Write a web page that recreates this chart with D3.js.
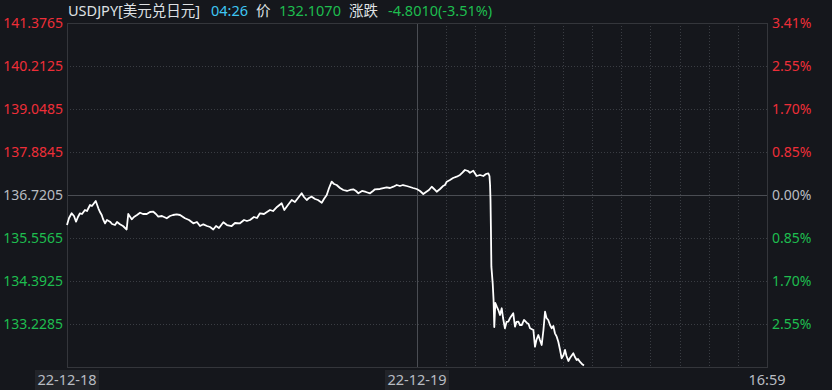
<!DOCTYPE html>
<html>
<head>
<meta charset="utf-8">
<script src="https://cdn.jsdelivr.net/npm/d3@7.9.0/dist/d3.min.js"></script>
<style>
  html, body { margin: 0; padding: 0; background: #15171c; }
  svg { display: block; font-family: "Noto Sans", "Noto Sans CJK SC", sans-serif; }
</style>
</head>
<body>
<div id="chart"></div>
<script>
// header values
const symbol     = 'USDJPY[美元兑日元]';
const lastTime   = '04:26';
const lastPrice  = '132.1070';
const change     = '-4.8010(-3.51%)';
const prevClose  = 136.7205;

// y ticks (price / percent)
const priceTicks  = [141.3765, 140.2125, 139.0485, 137.8845, 136.7205, 135.5565, 134.3925, 133.2285, 132.0645];
const priceLabels = ['141.3765', '140.2125', '139.0485', '137.8845', '136.7205', '135.5565', '134.3925', '133.2285', ''];
const pctLabels   = ['3.41%', '2.55%', '1.70%', '0.85%', '0.00%', '0.85%', '1.70%', '2.55%', ''];

// x: hours since start of the 22-12-18 session
const dayTicks   = [0, 24, 48];
const dayLabels  = ['22-12-18', '22-12-19', '16:59'];
const hourGrid   = [26, 28, 30, 32, 34, 36, 38, 40, 42, 44, 46];

// the series
const hours = [
  0.00, 0.14, 0.32, 0.48, 0.62, 0.75, 0.89, 1.03, 1.23, 1.37, 1.58, 1.71, 1.97, 2.15, 2.26, 2.38,
  2.47, 2.61, 2.74, 2.95, 3.09, 3.29, 3.43, 3.63, 3.84, 4.09, 4.20, 4.44, 4.59, 4.80, 5.01, 5.21,
  5.47, 5.69, 5.92, 6.10, 6.26, 6.51, 6.84, 7.06, 7.27, 7.52, 7.75, 8.09, 8.37, 8.66, 8.91, 9.12,
  9.35, 9.60, 9.81, 10.03, 10.22, 10.42, 10.72, 10.97, 11.29, 11.52, 11.86, 12.14, 12.34, 12.55,
  12.82, 13.03, 13.23, 13.51, 13.71, 13.92, 14.13, 14.40, 14.72, 14.90, 15.15, 15.41, 15.63, 15.84,
  16.09, 16.25, 16.44, 16.59, 16.78, 17.01, 17.21, 17.47, 17.62, 17.81, 17.97, 18.15, 18.31, 18.49,
  18.72, 18.95, 19.20, 19.41, 19.63, 19.82, 19.98, 20.23, 20.50, 20.78, 20.98, 21.12, 21.46, 21.92,
  22.15, 22.38, 22.61, 22.83, 23.04, 23.29, 23.52, 23.73, 23.98, 24.21, 24.43, 24.62, 24.82, 25.01,
  25.17, 25.35, 25.58, 25.78, 25.92, 26.04, 26.26, 26.47, 26.72, 26.95, 27.15, 27.29, 27.50, 27.63,
  27.86, 28.09, 28.32, 28.55, 28.73, 28.89, 28.97, 29.01, 29.04, 29.07, 29.10, 29.19, 29.25, 29.30,
  29.37, 29.47, 29.58, 29.69, 29.81, 29.90, 30.03, 30.14, 30.26, 30.38, 30.60, 30.72, 30.82, 30.95,
  31.06, 31.18, 31.34, 31.52, 31.65, 31.75, 31.98, 32.09, 32.19, 32.32, 32.43, 32.55, 32.67, 32.78,
  32.88, 33.00, 33.12, 33.24, 33.35, 33.46, 33.58, 33.69, 33.81, 33.92, 34.05, 34.15, 34.25, 34.38,
  34.49, 34.72, 34.83, 34.95, 35.04, 35.18, 35.31, 35.45
];
const prices = [
  135.908, 136.098, 136.225, 136.152, 135.998, 136.125, 136.225, 136.206, 136.314, 136.287, 136.450, 136.423, 136.558, 136.360, 136.260, 136.179,
  136.071, 135.954, 136.044, 135.998, 135.935, 135.908, 135.990, 135.927, 135.881, 135.787, 136.206, 136.063, 136.125, 136.179, 136.241, 136.206,
  136.206, 136.260, 136.268, 136.206, 136.133, 136.152, 136.090, 136.152, 136.179, 136.198, 136.179, 136.090, 136.044, 135.954, 135.990, 135.881,
  135.927, 135.881, 135.854, 135.787, 135.881, 135.827, 135.982, 135.908, 135.881, 135.963, 135.954, 136.044, 136.017, 136.044,
  136.125, 136.098, 136.225, 136.206, 136.260, 136.314, 136.287, 136.396, 136.496, 136.314, 136.450, 136.585, 136.531, 136.639,
  136.767, 136.666, 136.585, 136.639, 136.675, 136.612, 136.585, 136.512, 136.612, 136.721, 136.910, 137.081, 137.018, 136.991,
  136.910, 136.856, 136.829, 136.856, 136.875, 136.829, 136.767, 136.829, 136.802, 136.767, 136.829, 136.875, 136.883, 136.929,
  136.910, 136.945, 136.991, 136.964, 136.991, 136.964, 136.937, 136.910, 136.883, 136.829, 136.748, 136.802, 136.856, 136.945,
  136.883, 136.810, 136.883, 136.964, 136.991, 137.081, 137.127, 137.181, 137.216, 137.262, 137.343, 137.397, 137.370, 137.324,
  137.378, 137.235, 137.262, 137.235, 137.289, 137.308, 137.235, 136.991, 136.585, 135.773, 134.780, 134.330, 133.878, 133.147,
  133.797, 133.697, 133.607, 133.472, 133.654, 133.391, 133.112, 133.283, 133.291, 133.391, 133.518, 133.155, 133.283, 133.291,
  133.201, 133.201, 133.337, 133.264, 133.229, 133.112, 133.066, 132.614, 132.795, 132.931, 132.795, 132.660, 133.066, 133.561,
  133.391, 133.337, 133.201, 133.112, 133.174, 132.977, 132.885, 132.749, 132.525, 132.300, 132.389, 132.525, 132.362, 132.227,
  132.308, 132.435, 132.335, 132.254, 132.281, 132.200, 132.146, 132.107
];

const width = 832, height = 390;
const plot = { left: 67, right: 767, top: 23, bottom: 367 };

const red = '#ee2e38', green = '#1ebd4f', grey = '#b8bcc2';

const svg = d3.select('#chart').append('svg')
  .attr('width', width).attr('height', height);

svg.append('rect').attr('width', width).attr('height', height).attr('fill', '#15171c');

const x = d3.scaleLinear().domain([0, 48]).range([plot.left, plot.right]);
const y = d3.scaleLinear().domain([priceTicks[priceTicks.length - 1], priceTicks[0]])
  .range([plot.bottom, plot.top]);

const tickColor = v => v > prevClose + 1e-6 ? red : (v < prevClose - 1e-6 ? green : grey);

// dotted horizontal grid
svg.append('g')
  .selectAll('line')
  .data(priceTicks.filter(v => Math.abs(v - prevClose) > 1e-6))
  .join('line')
  .attr('x1', plot.left).attr('x2', plot.right)
  .attr('y1', d => Math.round(y(d)) + 0.5).attr('y2', d => Math.round(y(d)) + 0.5)
  .attr('stroke', '#3a3d43').attr('stroke-dasharray', '1,2');

// dotted vertical grid (second day only)
svg.append('g')
  .selectAll('line')
  .data(hourGrid)
  .join('line')
  .attr('x1', d => Math.round(x(d)) + 0.5).attr('x2', d => Math.round(x(d)) + 0.5)
  .attr('y1', plot.top).attr('y2', plot.bottom)
  .attr('stroke', '#3a3d43').attr('stroke-dasharray', '1,2');

// prev close line + day separator
svg.append('line')
  .attr('x1', plot.left).attr('x2', plot.right)
  .attr('y1', Math.round(y(prevClose)) + 0.5).attr('y2', Math.round(y(prevClose)) + 0.5)
  .attr('stroke', '#4a4d53');
svg.append('line')
  .attr('x1', Math.round(x(24)) + 0.5).attr('x2', Math.round(x(24)) + 0.5)
  .attr('y1', plot.top).attr('y2', plot.bottom)
  .attr('stroke', '#4a4d53');

// frame
svg.append('rect')
  .attr('x', plot.left + 0.5).attr('y', plot.top + 0.5)
  .attr('width', plot.right - plot.left).attr('height', plot.bottom - plot.top)
  .attr('fill', 'none').attr('stroke', '#34363b');

// left price axis
svg.append('g')
  .selectAll('text')
  .data(priceTicks.map((v, i) => ({ v, label: priceLabels[i] })))
  .join('text')
  .attr('x', plot.left - 4)
  .attr('y', d => y(d.v))
  .attr('dy', '0.36em')
  .attr('text-anchor', 'end')
  .attr('font-size', 14)
  .attr('fill', d => tickColor(d.v))
  .text(d => d.label);

// right percent axis
svg.append('g')
  .selectAll('text')
  .data(priceTicks.map((v, i) => ({ v, label: pctLabels[i] })))
  .join('text')
  .attr('x', plot.right + 5)
  .attr('y', d => y(d.v))
  .attr('dy', '0.36em')
  .attr('text-anchor', 'start')
  .attr('font-size', 14)
  .attr('fill', d => tickColor(d.v))
  .text(d => d.label);

// bottom labels
const xl = svg.append('g')
  .selectAll('g')
  .data(dayTicks.map((h, i) => ({ h, label: dayLabels[i] })))
  .join('g')
  .attr('transform', d => `translate(${x(d.h)},380)`);
xl.filter((d, i) => i < 2).append('rect')
  .attr('x', -32).attr('y', -10).attr('width', 64).attr('height', 20)
  .attr('fill', '#222429');
xl.append('text')
  .attr('text-anchor', 'middle')
  .attr('dy', '0.36em')
  .attr('font-size', 14.5)
  .attr('fill', grey)
  .text(d => d.label);

// price line
const line = d3.line()
  .x((d, i) => x(hours[i]))
  .y(d => y(d));

svg.append('path')
  .datum(prices)
  .attr('d', line)
  .attr('fill', 'none')
  .attr('stroke', '#ffffff')
  .attr('stroke-width', 1.8)
  .attr('stroke-linejoin', 'round');

// header
const headParts = [
  { x: 68,  text: symbol,    color: '#dfe1e4' },
  { x: 211, text: lastTime,  color: '#3ec6f2' },
  { x: 256, text: '价',       color: '#dfe1e4' },
  { x: 279, text: lastPrice, color: green },
  { x: 349, text: '涨跌',     color: '#dfe1e4' },
  { x: 388, text: change,    color: green }
];
svg.append('g')
  .selectAll('text')
  .data(headParts)
  .join('text')
  .attr('x', d => d.x).attr('y', 16)
  .attr('font-size', 14.5)
  .attr('fill', d => d.color)
  .text(d => d.text);
</script>
</body>
</html>
